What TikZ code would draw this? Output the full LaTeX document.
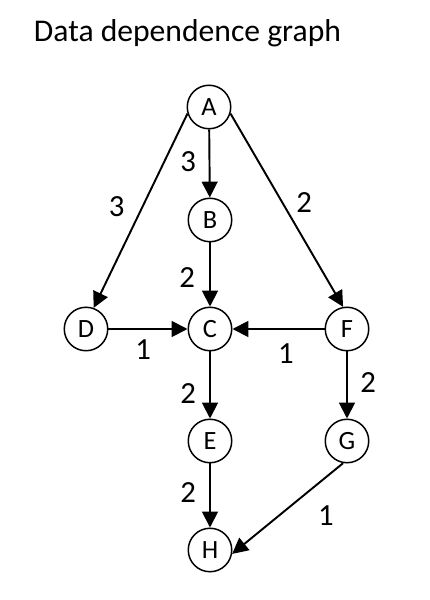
\documentclass[tikz,border=0pt]{standalone}
\usepackage{fontspec}
\setmainfont{Carlito}
\usetikzlibrary{positioning,arrows.meta}

\begin{document}
\begin{tikzpicture}[>={Triangle[length=9pt,width=9pt]},line width=1.1pt,
        vertex/.style={draw,circle,line width=0.85pt,minimum size=0.87cm,inner sep=0pt,font=\fontsize{15}{18}\selectfont},
        weight/.style={inner sep=0pt,font=\fontsize{17.5}{21}\selectfont}]
        \useasboundingbox (0,0) rectangle (8.6,12);
        \node[anchor=base west,inner sep=0pt,font=\fontsize{18}{22}\selectfont] (title) at (0.66,11.17) {Data dependence graph};

        \node[vertex] (A) at (4.18,9.86) {A};
        \node[vertex] (B) at (4.20,7.60) {B};
        \node[vertex] (C) at (4.20,5.42) {C};
        \node[vertex] (D) at (1.72,5.42) {D};
        \node[vertex] (F) at (6.94,5.42) {F};
        \node[vertex] (E) at (4.20,3.18) {E};
        \node[vertex] (G) at (6.94,3.18) {G};
        \node[vertex] (H) at (4.20,1.00) {H};

        \draw[->] (A.197) -- node[weight,pos=0.48,left=0.34cm] (wAD) {3} (D.70);
        \draw[->] (A) -- node[weight,pos=0.47,left=0.25cm] (wAB) {3} (B);
        \draw[->] (A.343) -- node[weight,pos=0.46,right=0.26cm] (wAF) {2} (F.100);
        \draw[->] (B) -- node[weight,pos=0.55,left=0.28cm] (wBC) {2} (C);
        \draw[->] (D) -- node[weight,pos=0.44,below=0.20cm] (wDC) {1} (C);
        \draw[->] (F) -- node[weight,pos=0.42,below=0.28cm] (wFC) {1} (C);
        \draw[->] (C) -- node[weight,pos=0.62,left=0.26cm] (wCE) {2} (E);
        \draw[->] (F) -- node[weight,pos=0.46,right=0.25cm] (wFG) {2} (G);
        \draw[->] (E) -- node[weight,pos=0.46,left=0.26cm] (wEH) {2} (H);
        \draw[->] (G.260) -- node[weight,pos=0.33,xshift=0.39cm,yshift=-0.45cm] (wGH) {1} (H.350);
    \end{tikzpicture}
\end{document}
